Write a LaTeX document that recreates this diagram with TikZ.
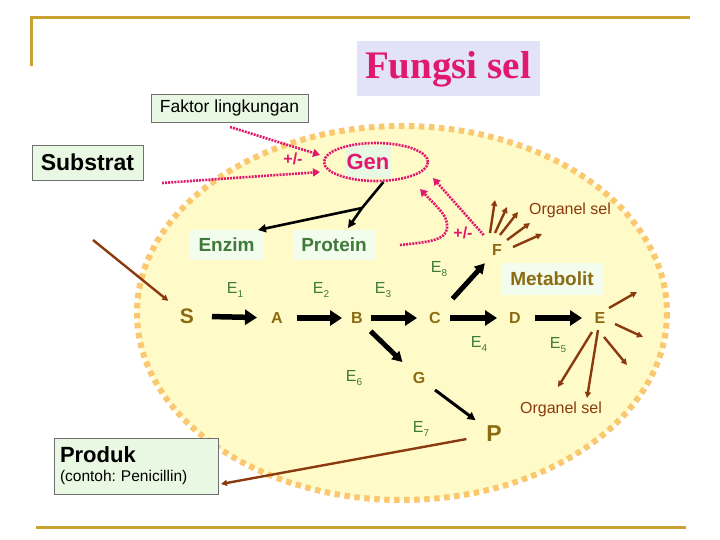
\documentclass[tikz,border=0pt]{standalone}
\usepackage{fontspec}
\setmainfont{Liberation Sans}
\newfontfamily\titlefont{Liberation Serif}
\usetikzlibrary{arrows.meta,shapes.geometric}
\definecolor{goldline}{HTML}{C9A232}
\definecolor{cellfill}{HTML}{FFFBC8}
\definecolor{celldot}{HTML}{F9C870}
\definecolor{mag}{HTML}{E0186E}
\definecolor{titlebg}{HTML}{E2E2F8}
\definecolor{boxfill}{HTML}{E8F8E2}
\definecolor{boxline}{HTML}{707070}
\definecolor{paleg}{HTML}{F2FDEE}
\definecolor{grn}{HTML}{3F7A3A}
\definecolor{metab}{HTML}{8C6A12}
\definecolor{brn}{HTML}{8B3A10}
\tikzset{
  goldrule/.style={goldline, line width=3pt},
  cell/.style={fill=cellfill, draw=celldot, line width=6pt, dash pattern=on 5.5pt off 4.5pt},
  labbox/.style={draw=boxline, fill=boxfill, line width=0.8pt, inner sep=0pt},
  palebox/.style={fill=paleg, inner sep=0pt},
  magline/.style={mag, line width=2.6pt, dash pattern=on 2pt off 1.1pt},
  magarrow/.style={magline, -{Triangle[length=7pt,width=8pt]}},
  bigarrow/.style={black, line width=5.5pt, -{Triangle[length=12pt,width=15pt]}},
  midarrow/.style={black, line width=3.6pt, -{Triangle[length=10pt,width=11pt]}},
  thinarrow/.style={black, line width=2.6pt, -{Triangle[length=8pt,width=8pt]}},
  brnarrow/.style={brn, line width=2.4pt, -{Triangle[length=6pt,width=6pt]}},
  met/.style={metab, font=\fontsize{16}{16}\selectfont\bfseries, inner sep=0pt},
  elab/.style={grn, font=\fontsize{16}{16}\selectfont, inner sep=0pt},
  enzlab/.style={grn, font=\fontsize{19}{19}\selectfont\bfseries},
  orglab/.style={brn, font=\fontsize{16}{16}\selectfont, inner sep=0pt},
  pmlab/.style={mag, font=\fontsize{16}{16}\selectfont\bfseries, inner sep=0pt},
}
\newcommand{\Esub}[1]{E\raisebox{-0.45ex}{\fontsize{10}{10}\selectfont #1}}
\begin{document}
\begin{tikzpicture}[x=1pt,y=-1pt]
\useasboundingbox (0,0) rectangle (720,540);
% frame rules
\draw[goldrule] (31,66) -- (31,18) -- (690,18);
\draw[goldrule] (36,527) -- (686,527);
% title
\node[fill=titlebg, minimum width=183pt, minimum height=55pt, inner sep=0pt] (title) at (448,69)
  {\titlefont\fontsize{39}{39}\selectfont\bfseries\color{mag}Fungsi sel};
% cell
\draw[cell] (402,313) ellipse [x radius=265, y radius=187];
% boxes outside
\node[labbox, minimum width=157pt, minimum height=28pt] (faktor) at (229.5,108)
  {\fontsize{17.5}{17.5}\selectfont Faktor lingkungan};
\node[labbox, minimum width=111pt, minimum height=35pt] (substrat) at (87.5,162.5)
  {\fontsize{23}{23}\selectfont\bfseries Substrat};
\node[labbox, minimum width=164pt, minimum height=56pt, align=left, text width=152pt] (produk) at (136,466)
  {\fontsize{22}{22}\selectfont\bfseries Produk\\[7pt]\fontsize{15.5}{17}\mdseries\selectfont (contoh: Penicillin)};
% Gen
\node[fill=boxfill, minimum width=45pt, minimum height=33pt, inner sep=0pt] (genbg) at (368,162) {};
\node[ellipse, draw=mag, line width=2.6pt, dash pattern=on 2pt off 1.1pt, minimum width=104pt, minimum height=38pt, inner sep=0pt] (gen) at (376,162) {};
\node[mag, font=\fontsize{22}{22}\selectfont\bfseries, inner sep=0pt] (gentext) at (368,162) {Gen};
\node[pmlab] (pm1) at (293,159) {+/-};
% magenta arrows into Gen
\coordinate (fakstart) at (230,127);
\coordinate (faktip) at (320,155);
\coordinate (substart) at (162,183);
\coordinate (subtip) at (320,172);
\draw[magarrow] (fakstart) -- (faktip);
\draw[magarrow] (substart) -- (subtip);
% Enzim / Protein
\node[palebox, minimum width=73pt, minimum height=30pt] (enzim) at (226.5,245) {};
\node[enzlab, inner sep=0pt] at (enzim) {Enzim};
\node[palebox, minimum width=82pt, minimum height=30pt] (protein) at (334,245) {};
\node[enzlab, inner sep=0pt] at (protein) {Protein};
\coordinate (j) at (362,208);
\coordinate (prottip) at (348,228);
\coordinate (enztip) at (258,230);
\draw[black, line width=2.6pt] (gen.290) -- (j);
\draw[thinarrow] (j) -- (enztip);
\draw[thinarrow] (j) -- (prottip);
% metabolites
\node[met, font=\fontsize{21}{21}\selectfont\bfseries] (S) at (187,316) {S};
\node[met] (A) at (277,318) {A};
\node[met] (B) at (357,318) {B};
\node[met] (C) at (435,318) {C};
\node[met] (D) at (515,318) {D};
\node[met] (E) at (600,318) {E};
\node[met] (F) at (497,250) {F};
\node[met] (G) at (419,378) {G};
\node[met, font=\fontsize{23}{23}\selectfont\bfseries] (P) at (494,434) {P};
\node[palebox, minimum width=103pt, minimum height=32pt] (metbox) at (552,279) {};
\node[met, font=\fontsize{19}{19}\selectfont\bfseries] (metabolit) at (metbox) {Metabolit};
% enzyme labels
\node[elab] (e1) at (235,290) {\Esub{1}};
\node[elab] (e2) at (321,290) {\Esub{2}};
\node[elab] (e3) at (383,290) {\Esub{3}};
\node[elab] (e8) at (439,269) {\Esub{8}};
\node[elab] (e4) at (479,344) {\Esub{4}};
\node[elab] (e5) at (558,345) {\Esub{5}};
\node[elab] (e6) at (354,378) {\Esub{6}};
\node[elab] (e7) at (421,429) {\Esub{7}};
% pathway arrows
\draw[bigarrow, shorten <=25pt, shorten >=20pt] (S.center) -- (A.center);
\draw[bigarrow, shorten <=20pt, shorten >=15pt] (A.center) -- (B.center);
\draw[bigarrow, shorten <=14pt, shorten >=18pt] (B.center) -- (C.center);
\draw[bigarrow, shorten <=15pt, shorten >=18pt] (C.center) -- (D.center);
\draw[bigarrow, shorten <=20pt, shorten >=18pt] (D.center) -- (E.center);
\draw[midarrow, line width=5pt, shorten <=26pt, shorten >=18pt] (C.center) -- (F.center);
\draw[midarrow, line width=5pt, shorten <=19pt, shorten >=23pt] (B.center) -- (G.center);
\draw[thinarrow, line width=3pt, shorten <=20pt, shorten >=23pt] (G.center) -- (P.center);
% feedback from F to Gen
\coordinate (fgtip) at (433,178);
\draw[magarrow, shorten <=20pt] (F.center) -- (fgtip);
\coordinate (fb0) at (400,245);
\coordinate (fbtip) at (420,189);
\draw[magarrow] (fb0) .. controls (430,242) and (446,240) .. (447,228) .. controls (448,216) and (440,210) .. (fbtip);
\node[pmlab] (pm2) at (463,233) {+/-};
% substrate into S
\coordinate (sin) at (93,240);
\draw[brnarrow, shorten >=24pt] (sin) -- (S.center);
% F fan
\coordinate (f1) at (495,200);
\coordinate (f2) at (507,207);
\coordinate (f3) at (518,212);
\coordinate (f4) at (530,223);
\coordinate (f5) at (542,234);
\draw[brnarrow] ([xshift=-7pt,yshift=17pt]F.center) -- (f1);
\draw[brnarrow] ([xshift=-2pt,yshift=17pt]F.center) -- (f2);
\draw[brnarrow] ([xshift=3pt,yshift=15pt]F.center) -- (f3);
\draw[brnarrow] ([xshift=10pt,yshift=10pt]F.center) -- (f4);
\draw[brnarrow] ([xshift=16pt,yshift=3pt]F.center) -- (f5);
\node[orglab] (org1) at (570,210) {Organel sel};
% E fan
\coordinate (g1) at (637,292);
\coordinate (g2) at (643,337);
\coordinate (g3) at (627,365);
\coordinate (g4) at (558,387);
\coordinate (g5) at (587,398);
\draw[brnarrow] ([xshift=9pt,yshift=10pt]E.center) -- (g1);
\draw[brnarrow] ([xshift=15pt,yshift=-6pt]E.center) -- (g2);
\draw[brnarrow] ([xshift=4pt,yshift=-19pt]E.center) -- (g3);
\draw[brnarrow] ([xshift=-8pt,yshift=-14pt]E.center) -- (g4);
\draw[brnarrow] ([xshift=-2pt,yshift=-12pt]E.center) -- (g5);
\node[orglab] (org2) at (561,409) {Organel sel};
% product out
\coordinate (prodin) at (221,484);
\draw[brnarrow, shorten <=28pt] (P.center) -- (prodin);
\end{tikzpicture}
\end{document}
